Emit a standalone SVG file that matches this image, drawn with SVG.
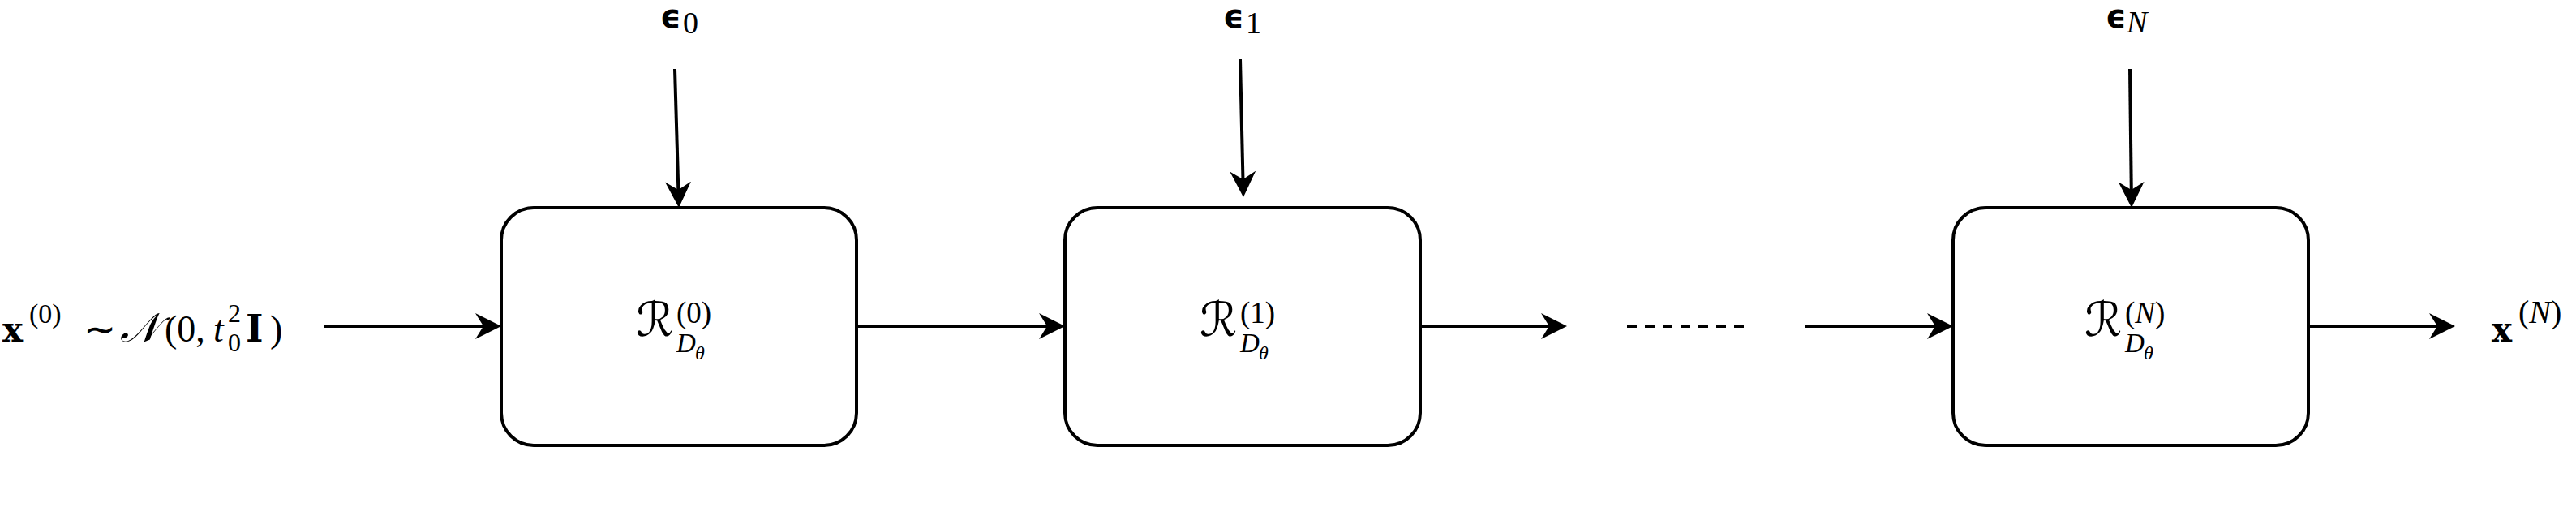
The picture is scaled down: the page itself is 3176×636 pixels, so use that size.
<svg xmlns="http://www.w3.org/2000/svg" width="3176" height="636" viewBox="0 0 3176 636">
<style>
.box{fill:#fff;stroke:#000;stroke-width:4}
.ln{fill:none;stroke:#000;stroke-width:4}
.dash{fill:none;stroke:#000;stroke-width:4;stroke-dasharray:12 10}
.m{font-family:"Liberation Serif","DejaVu Serif",serif;fill:#000}
.it{font-style:italic}
.bx{font-family:"DejaVu Serif","Liberation Serif",serif;font-weight:bold;fill:#000}
.cal{font-family:"DejaVu Sans","Noto Sans",sans-serif;font-style:italic;fill:#000}
.sym{font-family:"DejaVu Sans","Noto Sans",sans-serif;fill:#000}
.eps{font-family:"DejaVu Sans","Noto Sans",sans-serif;font-weight:bold;fill:#000}
</style>
<defs>
<marker id="ah" viewBox="0 0 32 32" refX="12" refY="16" markerWidth="32" markerHeight="32" markerUnits="userSpaceOnUse" orient="auto">
<path d="M0,0 L32,16 L0,32 L10,16 Z" fill="#000"/>
</marker>
</defs>
<rect width="3176" height="636" fill="#fff"/>

<g id="connectors">
<line class="ln" x1="399" y1="402" x2="598" y2="402" marker-end="url(#ah)"/>
<line class="ln" x1="1056" y1="402" x2="1293" y2="402" marker-end="url(#ah)"/>
<line class="ln" x1="1751" y1="402" x2="1912" y2="402" marker-end="url(#ah)"/>
<line class="dash" x1="2006" y1="402" x2="2150" y2="402"/>
<line class="ln" x1="2226" y1="402" x2="2388" y2="402" marker-end="url(#ah)"/>
<line class="ln" x1="2846" y1="402" x2="3007" y2="402" marker-end="url(#ah)"/>
<line class="ln" x1="832" y1="85" x2="836.4" y2="236" marker-end="url(#ah)"/>
<line class="ln" x1="1529" y1="73" x2="1532.5" y2="223" marker-end="url(#ah)"/>
<line class="ln" x1="2626" y1="85" x2="2627.8" y2="236" marker-end="url(#ah)"/>
</g>

<g id="input">
<text class="bx" x="3" y="421" font-size="42">x</text>
<text class="m" x="36" y="398" font-size="34">(0)</text>
<text class="sym" x="103" y="422" font-size="48">∼</text>
<text class="cal" x="148" y="421" font-size="50">𝒩</text>
<text class="m" x="203" y="421" font-size="46">(0,</text>
<text class="m it" x="263" y="421" font-size="46">t</text>
<text class="m" x="281" y="397" font-size="32">2</text>
<text class="m" x="281" y="433" font-size="32">0</text>
<text class="bx" x="303" y="421" font-size="46">I</text>
<text class="m" x="333" y="421" font-size="46">)</text>
</g>

<g id="eps0">
<text class="eps" x="814" y="34" font-size="40">ϵ</text>
<text class="m" x="842" y="41" font-size="38">0</text>
</g>
<g id="eps1">
<text class="eps" x="1508" y="34" font-size="40">ϵ</text>
<text class="m" x="1536" y="41" font-size="38">1</text>
</g>
<g id="epsN">
<text class="eps" x="2596" y="34" font-size="40">ϵ</text>
<text class="m it" x="2622" y="40" font-size="38">N</text>
</g>

<g id="node0">
<rect class="box" x="618" y="256" width="438" height="293" rx="40"/>
<text class="cal" x="784" y="414" font-size="58">ℛ</text>
<text class="m" x="834" y="398" font-size="37">(0)</text>
<text class="m it" x="834" y="434" font-size="33">D</text>
<text class="m it" x="857" y="443" font-size="24">θ</text>
</g>
<g id="node1">
<rect class="box" x="1313" y="256" width="438" height="293" rx="40"/>
<text class="cal" x="1479" y="414" font-size="58">ℛ</text>
<text class="m" x="1529" y="398" font-size="37">(1)</text>
<text class="m it" x="1529" y="434" font-size="33">D</text>
<text class="m it" x="1552" y="443" font-size="24">θ</text>
</g>
<g id="nodeN">
<rect class="box" x="2408" y="256" width="438" height="293" rx="40"/>
<text class="cal" x="2570" y="414" font-size="58">ℛ</text>
<text class="m" x="2620" y="398" font-size="37">(<tspan class="it">N</tspan>)</text>
<text class="m it" x="2620" y="434" font-size="33">D</text>
<text class="m it" x="2643" y="443" font-size="24">θ</text>
</g>

<g id="output">
<text class="bx" x="3072" y="421" font-size="42">x</text>
<text class="m" x="3105" y="398" font-size="40">(<tspan class="it">N</tspan>)</text>
</g>
</svg>
